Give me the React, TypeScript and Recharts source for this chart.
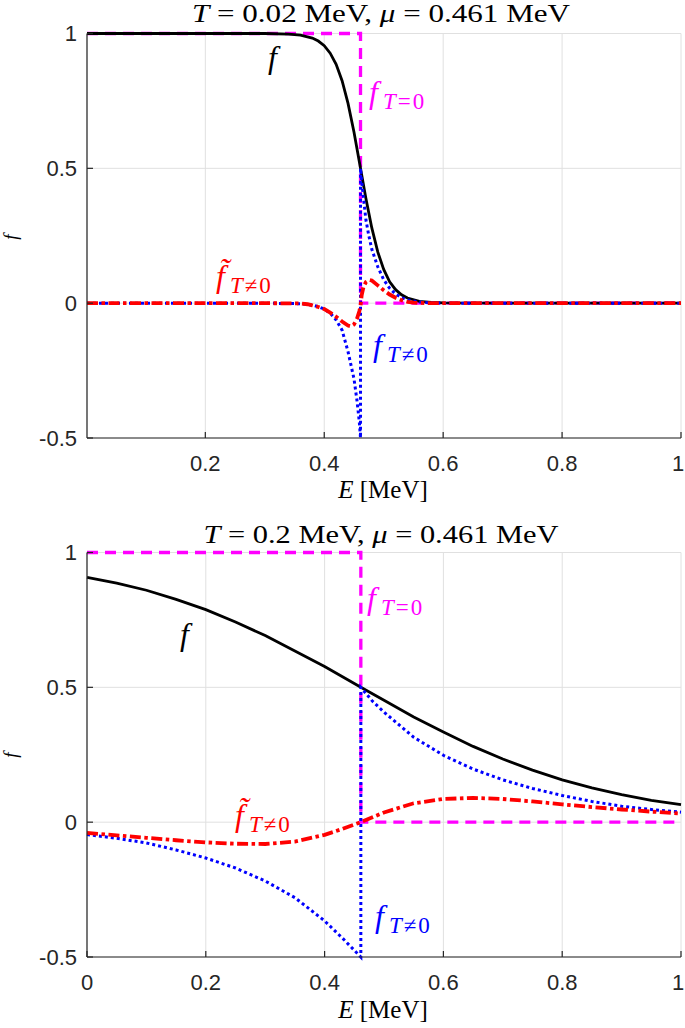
import React from 'react';
import { LineChart, Line, XAxis, YAxis, CartesianGrid } from 'recharts';

// ---------- Top panel: T = 0.02 MeV ----------
const TOP_F_E = [0.001, 0.1, 0.2, 0.3, 0.34, 0.36, 0.38, 0.39, 0.4, 0.41, 0.42, 0.43, 0.44, 0.45, 0.461, 0.47, 0.48, 0.49, 0.5, 0.51, 0.52, 0.53, 0.54, 0.56, 0.58, 0.6, 0.8, 1.0];
const TOP_F = [1, 1, 1, 1, 0.998, 0.994, 0.983, 0.972, 0.955, 0.927, 0.886, 0.825, 0.741, 0.635, 0.5, 0.389, 0.279, 0.19, 0.125, 0.079, 0.05, 0.031, 0.019, 0.007, 0.003, 0.001, 0, 0];

const TOP_T0_E = [0.001, 0.461, 0.461, 1.0];
const TOP_T0 = [1, 1, 0, 0];

const TOP_B_E = [0.001, 0.1, 0.2, 0.3, 0.36, 0.38, 0.39, 0.4, 0.41, 0.42, 0.43, 0.44, 0.45, 0.455, 0.459, 0.461, 0.461, 0.463, 0.465, 0.47, 0.475, 0.48, 0.49, 0.5, 0.51, 0.52, 0.53, 0.54, 0.56, 0.58, 0.6, 0.8, 1.0];
const TOP_B = [0, 0, 0, 0, -0.002, -0.007, -0.013, -0.022, -0.037, -0.062, -0.1, -0.18, -0.28, -0.36, -0.44, -0.5, 0.5, 0.45, 0.41, 0.31, 0.25, 0.2, 0.135, 0.087, 0.055, 0.034, 0.02, 0.012, 0.004, 0.0013, 0, 0, 0];

const TOP_R_E = [0.001, 0.1, 0.2, 0.3, 0.36, 0.372, 0.38, 0.39, 0.4, 0.41, 0.42, 0.43, 0.44, 0.445, 0.45, 0.455, 0.459, 0.461, 0.463, 0.466, 0.47, 0.476, 0.48, 0.49, 0.5, 0.51, 0.52, 0.53, 0.54, 0.55, 0.57, 0.8, 1.0];
const TOP_R = [0, 0, 0, 0, -0.001, -0.004, -0.008, -0.014, -0.022, -0.035, -0.05, -0.068, -0.083, -0.086, -0.079, -0.058, -0.03, -0.01, 0.03, 0.06, 0.078, 0.086, 0.084, 0.066, 0.048, 0.032, 0.02, 0.011, 0.005, 0.002, 0, 0, 0];

// ---------- Bottom panel: T = 0.2 MeV ----------
const BOT_F_E = [0, 0.05, 0.1, 0.15, 0.2, 0.25, 0.3, 0.35, 0.4, 0.461, 0.5, 0.55, 0.6, 0.65, 0.7, 0.75, 0.8, 0.85, 0.9, 0.95, 1.0];
const BOT_F = [0.908, 0.886, 0.86, 0.826, 0.788, 0.742, 0.692, 0.635, 0.577, 0.5, 0.452, 0.39, 0.334, 0.281, 0.234, 0.193, 0.157, 0.127, 0.102, 0.081, 0.065];

const BOT_T0_E = [0, 0.461, 0.461, 1.0];
const BOT_T0 = [1, 1, 0, 0];

const BOT_B_E = [0, 0.05, 0.1, 0.15, 0.2, 0.25, 0.3, 0.35, 0.4, 0.43, 0.461, 0.461, 0.48, 0.5, 0.55, 0.6, 0.65, 0.7, 0.75, 0.8, 0.85, 0.9, 0.95, 1.0];
const BOT_B = [-0.046, -0.06, -0.077, -0.103, -0.133, -0.17, -0.218, -0.28, -0.366, -0.43, -0.5, 0.5, 0.45, 0.408, 0.315, 0.248, 0.197, 0.157, 0.125, 0.099, 0.077, 0.059, 0.047, 0.037];

const BOT_R_E = [0, 0.05, 0.1, 0.15, 0.2, 0.25, 0.3, 0.35, 0.4, 0.43, 0.461, 0.5, 0.55, 0.6, 0.65, 0.7, 0.75, 0.8, 0.85, 0.9, 0.95, 1.0];
const BOT_R = [-0.04, -0.049, -0.058, -0.067, -0.075, -0.08, -0.081, -0.072, -0.047, -0.025, 0, 0.036, 0.07, 0.086, 0.09, 0.086, 0.077, 0.066, 0.056, 0.047, 0.039, 0.032];

// ---------- Axes ----------
const TOP_X_DOMAIN = [0.001, 1];
const TOP_X_TICKS = [0.2, 0.4, 0.6, 0.8, 1];
const BOT_X_DOMAIN = [0, 1];
const BOT_X_TICKS = [0, 0.2, 0.4, 0.6, 0.8, 1];
const Y_DOMAIN = [-0.5, 1];
const Y_TICKS = [-0.5, 0, 0.5, 1];

const TITLES = ['0.02', '0.2'];

type Pt = { E: number; v: number };
const zip = (es: number[], vs: number[]): Pt[] => es.map((E, i) => ({ E, v: vs[i] }));

const AX = '#262626';
const SANS = 'Liberation Sans, Arial, sans-serif';
const SERIF = 'Liberation Serif, Times New Roman, serif';

function XTick(props: any) {
  const { x, y, payload } = props;
  const shift = payload.value === 1 ? -3 : 0;
  return (
    <text x={x + shift} y={y} dy="0.71em" textAnchor="middle" fill={AX} fontSize={22} fontFamily={SANS}>
      {String(payload.value)}
    </text>
  );
}

function YTick(props: any) {
  const { x, y, payload } = props;
  return (
    <text x={x} y={y} dy="0.355em" textAnchor="end" fill={AX} fontSize={22} fontFamily={SANS}>
      {String(payload.value)}
    </text>
  );
}

function Panel(props: {
  top: number;
  mTop: number;
  mBottom: number;
  xDomain: number[];
  xTicks: number[];
  f: Pt[];
  t0: Pt[];
  b: Pt[];
  r: Pt[];
}) {
  const { top, mTop, mBottom, xDomain, xTicks, f, t0, b, r } = props;
  return (
    <div style={{ position: 'absolute', left: 0, top }}>
      <LineChart width={685} height={514} margin={{ top: mTop, right: 4, bottom: mBottom, left: 27 }}>
        <CartesianGrid stroke="#e0e0e0" strokeWidth={1} />
        <XAxis
          xAxisId={0}
          dataKey="E"
          type="number"
          domain={xDomain}
          ticks={xTicks}
          interval={0}
          height={40}
          tickSize={-6}
          tickMargin={23}
          stroke={AX}
          strokeWidth={1.2}
          tick={<XTick />}
        />
        <XAxis
          xAxisId="top"
          orientation="top"
          dataKey="E"
          type="number"
          domain={xDomain}
          ticks={xTicks}
          interval={0}
          height={0}
          tickSize={-6}
          tick={false}
          stroke={AX}
          strokeWidth={1.2}
        />
        <YAxis
          yAxisId={0}
          type="number"
          domain={Y_DOMAIN}
          ticks={Y_TICKS}
          interval={0}
          width={60}
          tickSize={-6}
          tickMargin={16}
          stroke={AX}
          strokeWidth={1.2}
          tick={<YTick />}
        />
        <YAxis
          yAxisId="right"
          orientation="right"
          type="number"
          domain={Y_DOMAIN}
          ticks={Y_TICKS}
          interval={0}
          width={0}
          tickSize={-6}
          tick={false}
          stroke={AX}
          strokeWidth={1.2}
        />
        <Line data={t0} dataKey="v" type="linear" stroke="#ff00ff" strokeWidth={3.3} strokeDasharray="11 7" dot={false} activeDot={false} isAnimationActive={false} />
        <Line data={f} dataKey="v" type="linear" stroke="#000000" strokeWidth={2.8} dot={false} activeDot={false} isAnimationActive={false} />
        <Line data={b} dataKey="v" type="linear" stroke="#0000ff" strokeWidth={3} strokeDasharray="3 3" dot={false} activeDot={false} isAnimationActive={false} />
        <Line data={r} dataKey="v" type="linear" stroke="#ff0000" strokeWidth={3.8} strokeDasharray="11 3.5 3.5 3.5" dot={false} activeDot={false} isAnimationActive={false} />
      </LineChart>
    </div>
  );
}

function FLabel(props: { x: number; y: number; color: string; sub?: string; tilde?: boolean }) {
  const { x, y, color, sub, tilde } = props;
  return (
    <text x={x} y={y} fill={color} fontFamily={SERIF}>
      <tspan fontSize={32} fontStyle="italic">
        {tilde ? 'f\u0303' : 'f'}
      </tspan>
      {sub && (
        <tspan fontSize={23} dy={6} dx={5} fontStyle="italic">
          T
        </tspan>
      )}
      {sub && (
        <tspan fontSize={23} dx={2}>
          {sub.charAt(0)}
        </tspan>
      )}
      {sub && (
        <tspan fontSize={23} dx={2}>
          {sub.charAt(1)}
        </tspan>
      )}
    </text>
  );
}

function Title(props: { y: number; temp: string; len: number }) {
  return (
    <text x={381} y={props.y} textAnchor="middle" fontFamily={SERIF} fontSize={25} fill="#000" textLength={props.len} lengthAdjust="spacingAndGlyphs">
      <tspan fontStyle="italic">T</tspan>
      {' = ' + props.temp + ' MeV, '}
      <tspan fontStyle="italic">μ</tspan>
      {' = 0.461 MeV'}
    </text>
  );
}

function XLabel(props: { y: number }) {
  return (
    <text x={383} y={props.y} textAnchor="middle" fontFamily={SERIF} fontSize={25} fill="#000">
      <tspan fontStyle="italic">E</tspan>
      {' [MeV]'}
    </text>
  );
}

function YLabel(props: { y: number }) {
  return (
    <text x={17} y={props.y} transform={`rotate(-90 17 ${props.y})`} textAnchor="middle" fontFamily={SERIF} fontSize={19} fontStyle="italic" fill="#000">
      f
    </text>
  );
}

export default function App() {
  return (
    <div style={{ position: 'absolute', left: 0, top: 0, width: 685, height: 1028, background: '#fff', overflow: 'hidden' }}>
      <Panel
        top={0}
        mTop={33.5}
        mBottom={36}
        xDomain={TOP_X_DOMAIN}
        xTicks={TOP_X_TICKS}
        f={zip(TOP_F_E, TOP_F)}
        t0={zip(TOP_T0_E, TOP_T0)}
        b={zip(TOP_B_E, TOP_B)}
        r={zip(TOP_R_E, TOP_R)}
      />
      <Panel
        top={514}
        mTop={38.5}
        mBottom={31}
        xDomain={BOT_X_DOMAIN}
        xTicks={BOT_X_TICKS}
        f={zip(BOT_F_E, BOT_F)}
        t0={zip(BOT_T0_E, BOT_T0)}
        b={zip(BOT_B_E, BOT_B)}
        r={zip(BOT_R_E, BOT_R)}
      />
      <svg width={685} height={1028} style={{ position: 'absolute', left: 0, top: 0, pointerEvents: 'none' }}>
        <Title y={22} temp={TITLES[0]} len={378} />
        <Title y={543} temp={TITLES[1]} len={355} />
        <XLabel y={498} />
        <XLabel y={1018} />
        <YLabel y={237} />
        <YLabel y={755} />

        <FLabel x={268} y={68} color="#000" />
        <FLabel x={369} y={103} color="#ff00ff" sub="=0" />
        <FLabel x={216} y={287} color="#ff0000" sub="≠0" tilde />
        <FLabel x={373} y={356} color="#0000ff" sub="≠0" />

        <FLabel x={180} y={645} color="#000" />
        <FLabel x={367} y={609} color="#ff00ff" sub="=0" />
        <FLabel x={235} y={826} color="#ff0000" sub="≠0" tilde />
        <FLabel x={375} y={927} color="#0000ff" sub="≠0" />
      </svg>
    </div>
  );
}
